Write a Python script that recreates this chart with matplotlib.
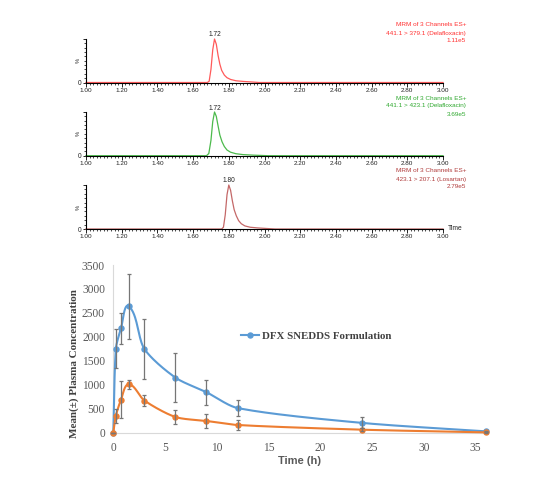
import numpy as np
import matplotlib
matplotlib.use("Agg")
import matplotlib.pyplot as plt
from matplotlib.ticker import MultipleLocator, FixedLocator
from matplotlib.lines import Line2D

# ---------------- data: chromatograms ----------------
peak1_t = [1.00, 1.680, 1.690, 1.700, 1.710, 1.720, 1.730, 1.740, 1.750, 1.760, 1.775, 1.790, 1.810, 1.840, 1.880, 1.930, 1.970, 3.00]
peak1_i = [0, 0, 3, 30, 75, 100, 88, 62, 42, 28, 17, 11, 7, 4, 2.5, 1.2, 0, 0]
peak2_t = [1.00, 1.675, 1.688, 1.700, 1.710, 1.720, 1.730, 1.740, 1.750, 1.762, 1.775, 1.790, 1.810, 1.840, 1.880, 1.940, 2.020, 3.00]
peak2_i = [0, 0, 5, 35, 78, 100, 90, 68, 47, 32, 21, 13, 8, 4.5, 2.5, 1.2, 0, 0]
peak3_t = [1.00, 1.760, 1.770, 1.780, 1.790, 1.800, 1.810, 1.820, 1.830, 1.842, 1.855, 1.870, 1.890, 1.920, 1.960, 2.010, 2.060, 3.00]
peak3_i = [0, 0, 4, 32, 78, 100, 88, 64, 44, 30, 19, 12, 7, 4, 2.5, 1.2, 0, 0]
peak_labels = ["1.72", "1.72", "1.80"]
peak_pos = [1.72, 1.72, 1.80]
panel_text = [
    ["MRM of 3 Channels ES+", "441.1 > 379.1 (Delafloxacin)", "1.11e5"],
    ["MRM of 3 Channels ES+", "441.1 > 423.1 (Delafloxacin)", "3.69e5"],
    ["MRM of 3 Channels ES+", "423.1 > 207.1 (Losartan)", "2.79e5"],
]
chrom_ticks = [1.00, 1.20, 1.40, 1.60, 1.80, 2.00, 2.20, 2.40, 2.60, 2.80, 3.00]

# ---------------- data: PK profile ----------------
time_h = [0, 0.25, 0.75, 1.5, 3, 6, 9, 12, 24, 36]
snedds_mean = [0, 1750, 2180, 2640, 1750, 1150, 845, 515, 205, 28]
snedds_sd = [0, 410, 320, 680, 620, 510, 265, 175, 115, 15]
susp_mean = [0, 356, 690, 1010, 672, 328, 245, 161, 63, 7]
susp_sd = [0, 145, 380, 90, 110, 145, 140, 95, 25, 5]
legend_label = "DFX SNEDDS Formulation"
x_ticks = [0, 5, 10, 15, 20, 25, 30, 35]
y_ticks = [0, 500, 1000, 1500, 2000, 2500, 3000, 3500]

W, H = 550, 487
fig = plt.figure(figsize=(5.5, 4.87), dpi=100)


def ax_px(x0, y0, x1, y1):
    return fig.add_axes([x0 / W, 1 - y1 / H, (x1 - x0) / W, (y1 - y0) / H])


sans = ["Liberation Sans", "DejaVu Sans"]
serif = ["Liberation Serif", "DejaVu Serif"]

trace_colors = ["#ff5a5a", "#4cba4c", "#c46868"]
text_colors = ["#ff3030", "#2fa82f", "#b03a3a"]
panels = [(39, 82.5), (112, 155.7), (185, 229)]
traces = [(peak1_t, peak1_i), (peak2_t, peak2_i), (peak3_t, peak3_i)]

for k, ((ytop, ybot), (tt, ii)) in enumerate(zip(panels, traces)):
    ax = ax_px(86, ytop, 443, ybot)
    ax.plot(tt, ii, color=trace_colors[k], lw=0.9, zorder=2, clip_on=False)
    ax.set_xlim(1.0, 3.0)
    ax.set_ylim(0, 100)
    for s in ["top", "right"]:
        ax.spines[s].set_visible(False)
    for s in ["left", "bottom"]:
        ax.spines[s].set_linewidth(0.8)
        ax.spines[s].set_color("black")
    ax.xaxis.set_major_locator(FixedLocator(chrom_ticks))
    ax.xaxis.set_minor_locator(MultipleLocator(0.02))
    ax.set_xticklabels([f"{v:.2f}" for v in chrom_ticks], fontfamily=sans, fontsize=4.6,
                       color="#222222")
    ax.tick_params(axis="x", which="major", length=2.6, width=0.6, pad=1.0)
    ax.tick_params(axis="x", which="minor", length=1.4, width=0.5)
    ax.yaxis.set_major_locator(FixedLocator([0, 100]))
    ax.yaxis.set_minor_locator(MultipleLocator(10))
    ax.set_yticklabels(["0", ""], fontfamily=sans, fontsize=4.8, color="#222222")
    ax.tick_params(axis="y", which="major", length=2.2, width=0.6, pad=1.2)
    ax.tick_params(axis="y", which="minor", length=1.2, width=0.5)
    ax.text(-8 / 357, 0.5, "%", transform=ax.transAxes, rotation=90,
            ha="center", va="center", fontsize=4.2, fontfamily=sans, color="#222222")
    ax.annotate(peak_labels[k], xy=(peak_pos[k], 100), xytext=(0, 4),
                textcoords="offset pixels", ha="center", va="center",
                fontsize=4.8, fontfamily=sans, color="#222222", annotation_clip=False)
    for j, line in enumerate(panel_text[k]):
        yy = ytop - 14 + j * 8
        fig.text(466 / W, 1 - yy / H, line, ha="right", va="center",
                 fontsize=4.6, fontfamily=sans, color=text_colors[k])

fig.text(448 / W, 1 - 229 / H, "Time", ha="left", va="center", fontsize=4.8,
         fontfamily=sans, color="#222222")

# ---------------- PK plot ----------------
x0p, x1p, y0p, y1p = 113.3, 486.0, 432.7, 265.0
xmin, xmax, ymin, ymax = 0.0, 36.0, 0.0, 3500.0
sx = (x1p - x0p) / (xmax - xmin)
sy = (y0p - y1p) / (ymax - ymin)


def smooth(x, y, n=30, k=0.27):
    # smoothed line through the points (Bezier, tangents in pixel space)
    P = np.column_stack([np.asarray(x, float) * sx, np.asarray(y, float) * sy])
    m = len(P)
    D = np.zeros_like(P)
    for i in range(m):
        a = P[max(i - 1, 0)]
        b = P[min(i + 1, m - 1)]
        d = b - a
        nd = np.hypot(*d)
        D[i] = d / nd if nd > 0 else 0
    out = []
    s = np.linspace(0, 1, n)[:, None]
    for i in range(m - 1):
        p1, p2 = P[i], P[i + 1]
        L = np.hypot(*(p2 - p1))
        c1 = p1 + D[i] * L * k
        c2 = p2 - D[i + 1] * L * k
        seg = (1 - s) ** 3 * p1 + 3 * (1 - s) ** 2 * s * c1 + 3 * (1 - s) * s ** 2 * c2 + s ** 3 * p2
        out.append(seg if i == 0 else seg[1:])
    out = np.vstack(out)
    return out[:, 0] / sx, out[:, 1] / sy


bx = ax_px(x0p, y1p, x1p, y0p)
blue = "#5b9bd5"
orange = "#ed7d31"
gray = "#767676"

bxs, bys = smooth(time_h, snedds_mean)
oxs, oys = smooth(time_h, susp_mean)
bx.plot(bxs, bys, color=blue, lw=1.5, zorder=3, clip_on=False)
bx.plot(time_h, snedds_mean, "o", color=blue, ms=3.6, zorder=4, clip_on=False)
bx.plot(oxs, oys, color=orange, lw=1.5, zorder=5, clip_on=False)
bx.plot(time_h, susp_mean, "o", color=orange, ms=3.6, zorder=6, clip_on=False)
bx.errorbar(time_h, snedds_mean, yerr=snedds_sd, fmt="none", ecolor=gray,
            elinewidth=0.9, capsize=1.7, capthick=0.9, zorder=7, clip_on=False)
bx.errorbar(time_h, susp_mean, yerr=susp_sd, fmt="none", ecolor=gray,
            elinewidth=0.9, capsize=1.7, capthick=0.9, zorder=7, clip_on=False)

bx.set_xlim(xmin, xmax)
bx.set_ylim(ymin, ymax)
bx.set_xticks(x_ticks)
bx.set_yticks(y_ticks)
bx.set_xticklabels([str(v) for v in x_ticks], fontfamily=serif, fontsize=8.3, color="#595959")
bx.set_yticklabels([str(v) for v in y_ticks], fontfamily=serif, fontsize=8.3, color="#595959")
bx.tick_params(length=0, pad=6)
bx.tick_params(axis="x", pad=7)
for s in ["top", "right"]:
    bx.spines[s].set_visible(False)
for s in ["left", "bottom"]:
    bx.spines[s].set_color("#d9d9d9")
    bx.spines[s].set_linewidth(0.8)

bx.set_xlabel("Time (h)", fontfamily=sans, fontweight="bold", fontsize=8, color="#595959")
bx.xaxis.set_label_coords(0.5, -(456 - 432.7) / 167.7)
bx.set_ylabel("Mean(\u00b1) Plasma Concentration", fontfamily=serif, fontweight="bold",
              fontsize=8, color="#404040")
bx.yaxis.set_label_coords(-(113.3 - 79) / 372.7, (432.7 - 364) / 167.7)

handle = Line2D([], [], color=blue, lw=1.5, marker="o", ms=3.6)
leg = bx.legend([handle], [legend_label], loc="center left",
                bbox_to_anchor=(241 / W, 1 - 336 / H), bbox_transform=fig.transFigure,
                frameon=False, borderpad=0, borderaxespad=0, handlelength=1.65,
                handletextpad=0.3, prop={"family": serif, "weight": "bold", "size": 7.8})
for t in leg.get_texts():
    t.set_color("#404040")

fig.savefig("out.png", dpi=100)
